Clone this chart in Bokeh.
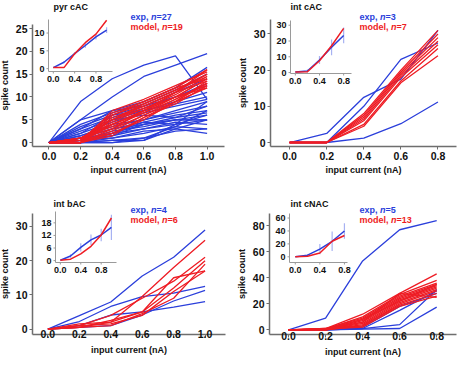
from bokeh.plotting import figure
from bokeh.layouts import column, row
from bokeh.models import Label, FixedTicker, NumeralTickFormatter, Range1d
from bokeh.core.properties import value
from bokeh.embed import file_html
from bokeh.resources import INLINE

BLUE = "#2b3fdb"
RED = "#ee1c24"
ERR = "#a7b2f2"
INK = "#111111"
FONT = "Liberation Sans"

# ---------------- data ----------------
pyr_x = [0.0, 0.2, 0.4, 0.6, 0.8, 1.0]
pyr_exp = [
    [0, 9, 14, 17, 19, 9.5], [0, 5, 10, 14.5, 17, 19.5], [0, 5, 7, 9, 12, 16.5],
    [0, 4, 6.5, 8.5, 11.5, 15], [0, 3.5, 6, 8, 11, 14], [0, 3, 7, 8, 10, 13],
    [0, 3, 5.5, 7.5, 10, 12.5], [0, 2.5, 5, 7, 9, 11], [0, 2, 6, 7, 8.5, 10],
    [0, 2, 4.5, 6.5, 8, 9.5], [0, 1.5, 4, 5, 7, 9], [0, 1.5, 3.5, 5, 6.5, 8],
    [0, 1, 3, 4.5, 6, 7], [0, 1, 5, 6, 5.5, 6.5], [0, 1, 3, 4, 5, 6],
    [0, 0.5, 2.5, 3.5, 5, 5], [0, 0.5, 2, 4.5, 4, 5], [0, 0.5, 1.5, 3, 4.5, 4],
    [0, 0.5, 1, 2, 3.5, 3], [0, 0, 1, 2.5, 3, 2], [0, 0, 0.5, 0.5, 3, 5],
    [0, 0, 0.5, 1, 2.5, 3], [0, 0, 0, 0.5, 4, 6], [0, 0, 0, 1, 3.5, 7],
    [0, 1, 2, 3, 4, 9], [0, 0, 2, 4, 5, 5], [0, 0.5, 1.5, 4, 5.5, 8],
]
pyr_model = [
    [0, 1, 4, 7, 10, 14], [0, 0.5, 5, 8, 11, 15], [0, 0, 6, 9, 12, 16],
    [0, 0, 7, 9.5, 12.5, 15.5], [0, 1, 3, 6, 9, 13], [0, 0.5, 2, 5, 9, 12],
    [0, 0, 4.5, 7.5, 10.5, 14.5], [0, 0, 5.5, 8, 11, 13.5], [0, 1, 3.5, 6.5, 10, 12.5],
    [0, 0, 2.5, 6, 9.5, 13], [0, 0.5, 6, 8.5, 11.5, 15], [0, 0, 4, 7, 10, 12],
    [0, 0, 1.5, 5.5, 8.5, 12.5], [0, 1, 5, 7.5, 10, 14], [0, 0, 3, 7, 11, 16],
    [0, 0.5, 6.5, 9, 12, 14], [0, 0, 2, 5.5, 9, 13.5], [0, 0, 5, 8.5, 11.5, 14.5],
    [0, 1, 4, 6.5, 9.5, 13],
]
pyr_inset_exp = [0.3, 1.8, 4.2, 6.5, 8.9, 10.8]
pyr_inset_err = [0.0, 0.3, 0.4, 0.6, 0.7, 0.8]
pyr_inset_model = [0.3, 0.3, 4.2, 7.3, 9.7, 13.6]

cac_x = [0.0, 0.2, 0.4, 0.6, 0.8]
cac_exp = [[0, 2.5, 12.5, 17.5, 31], [0, 0, 10, 23, 27.5], [0, 0, 1.2, 5.2, 11.2]]
cac_model = [
    [0, 0, 8, 20, 31], [0, 0, 7.5, 19.5, 30], [0, 0, 7, 19, 29], [0, 0, 6.5, 18.5, 28],
    [0, 0, 6, 18, 27], [0, 0, 5, 17, 26], [0, 0, 4.5, 16.5, 24],
]
cac_inset_exp = [0.3, 1.0, 8.0, 16.0, 23.5]
cac_inset_err = [0.0, 1.0, 2.5, 5.0, 5.0]
cac_inset_model = [0.3, 0.5, 7.5, 17.0, 28.0]

bac_x = [0.0, 0.2, 0.4, 0.6, 0.8, 1.0]
bac_exp = [[0, 3.9, 7.9, 15.5, 21, 29], [0, 2.2, 6.6, 9.5, 10.5, 12.5],
           [0, 1, 4.1, 5, 6.4, 8], [0, 0.5, 1, 4.1, 8.2, 11.3]]
bac_model = [
    [0, 0.5, 2, 9.5, 18, 26], [0, 1, 4, 9, 14, 21], [0, 1.5, 2, 5, 12, 20],
    [0, 0.5, 1, 4.5, 9, 19], [0, 0.5, 2.5, 5, 15, 17], [0, 1, 1.5, 4, 11, 17],
]
bac_inset_exp = [0.2, 2.2, 6.3, 9.9, 12.2, 15.8]
bac_inset_err = [0.0, 0.8, 2.0, 2.5, 3.0, 6.0]
bac_inset_model = [0.2, 0.7, 3.2, 6.8, 12.2, 20.3]

cnac_x = [0.0, 0.2, 0.4, 0.6, 0.8]
cnac_exp = [[0, 9, 53, 77, 84], [0, 0, 1, 15, 30], [0, 0, 1, 4, 31],
            [0, 0, 0.5, 1, 17.5], [0, 0, 2, 18, 28]]
cnac_model = [
    [0, 1, 12, 28, 43], [0, 0.5, 10, 27, 38], [0, 1, 9, 26, 36], [0, 0.5, 8, 25, 35],
    [0, 0, 7, 24, 34], [0, 0.5, 6, 23, 33], [0, 0, 5, 22, 32], [0, 0, 4, 21, 31],
    [0, 1, 3, 20, 30], [0, 0, 3, 19, 28], [0, 0.5, 2, 18, 26], [0, 0, 6, 28, 25],
    [0, 0, 8, 22, 35],
]
cnac_inset_exp = [0.0, 2.5, 12.0, 24.0, 40.0]
cnac_inset_err = [0.0, 1.5, 8.0, 15.0, 12.0]
cnac_inset_model = [0.0, 1.0, 6.0, 24.0, 33.0]

x_ticks_10 = [0.0, 0.2, 0.4, 0.6, 0.8, 1.0]
x_ticks_08 = [0.0, 0.2, 0.4, 0.6, 0.8]
inset_x_ticks = [0.0, 0.4, 0.8]
inset_x_labels = ["0.0", "0.4", "0.8"]

PW, PH = 229, 182


def panel(xs, exp, model, xr, yr, xticks, yticks, frame, legend_y, n_exp, n_mod,
          ins_exp, ins_err, ins_mod, ins_xr, ins_yr, ins_yticks, ins_frame, title,
          title_pos, xstand, xlabstand):
    L, R, T, B = frame
    # the plot area is the whole panel; axes sit at fixed locations inside it
    kx = (xr[1] - xr[0]) / (R - L)
    ky = (yr[1] - yr[0]) / (B - T)
    X0, X1 = xr[0] - L * kx, xr[1] + (PW - R) * kx
    Y0, Y1 = yr[0] - (PH - B) * ky, yr[1] + T * ky
    p = figure(width=PW, height=PH, x_range=Range1d(X0, X1), y_range=Range1d(Y0, Y1),
               output_backend="svg", toolbar_location=None,
               min_border_left=0, min_border_right=0, min_border_top=0,
               min_border_bottom=0)
    p.outline_line_color = None
    p.grid.visible = False
    p.xaxis.ticker = FixedTicker(ticks=xticks)
    p.yaxis.ticker = FixedTicker(ticks=yticks)
    p.xaxis.formatter = NumeralTickFormatter(format="0.0")
    p.xaxis.fixed_location = yr[0]
    p.yaxis.fixed_location = xr[0]
    p.xaxis.bounds = (xr[0], xr[1])
    p.yaxis.bounds = (yr[0], yr[1])
    for ax in (p.xaxis[0], p.yaxis[0]):
        ax.axis_line_color = "#6e6e6e"
        ax.axis_line_width = 1.5
        ax.major_tick_line_color = "#6e6e6e"
        ax.major_tick_in = 0
        ax.major_tick_out = 3
        ax.minor_tick_line_color = None
        ax.major_label_text_font = FONT
        ax.major_label_text_font_style = "bold"
        ax.major_label_text_font_size = "10.5px"
        ax.major_label_text_color = INK
        ax.axis_label_text_font = FONT
        ax.axis_label_text_font_style = "bold"
        ax.axis_label_text_font_size = "9px"
        ax.axis_label_text_color = INK
    p.yaxis.major_label_standoff = 2
    p.yaxis.axis_label_standoff = 3
    p.xaxis.major_label_standoff = xstand
    p.xaxis.axis_label_standoff = xlabstand
    p.xaxis.axis_label = "input current (nA)"
    p.yaxis.axis_label = "spike count"

    for ys in exp:
        p.line(xs, ys, line_color=BLUE, line_width=1.3)
    for ys in model:
        p.line(xs, ys, line_color=RED, line_width=1.3)

    # ---- inset: its own ranges, mapped onto the sub-rectangle ins_frame ----
    iL, iR, iT, iB = ins_frame
    ix0, ix1 = ins_xr
    iy0, iy1 = ins_yr
    sx = (ix1 - ix0) / (iR - iL)
    sy = (iy1 - iy0) / (iB - iT)
    p.extra_x_ranges = {"ix": Range1d(ix0 - iL * sx, ix1 + (PW - iR) * sx)}
    p.extra_y_ranges = {"iy": Range1d(iy0 - (PH - iB) * sy, iy1 + iT * sy)}
    kw = dict(x_range_name="ix", y_range_name="iy")
    AX = "#9a9a9a"
    p.segment(x0=[ix0, ix0], y0=[iy0, iy0], x1=[ix0, ix1], y1=[iy1, iy0],
              line_color=AX, line_width=1, **kw)
    p.segment(x0=[ix0 - 2 * sx] * len(ins_yticks), y0=ins_yticks,
              x1=[ix0] * len(ins_yticks), y1=ins_yticks, line_color=AX, **kw)
    p.segment(x0=inset_x_ticks, y0=[iy0] * 3, x1=inset_x_ticks,
              y1=[iy0 - 2 * sy] * 3, line_color=AX, **kw)
    p.text(x=[ix0 - 4 * sx] * len(ins_yticks), y=ins_yticks,
           text=[str(v) for v in ins_yticks], text_align="right",
           text_baseline="middle", text_font=value(FONT), text_font_style="bold",
           text_font_size="9px", text_color=INK, **kw)
    p.text(x=inset_x_ticks, y=[iy0 - 4 * sy] * 3, text=inset_x_labels,
           text_align="center", text_baseline="top", text_font=value(FONT),
           text_font_style="bold", text_font_size="9px", text_color=INK, **kw)
    lo = [m - e for m, e in zip(ins_exp, ins_err)]
    hi = [m + e for m, e in zip(ins_exp, ins_err)]
    p.segment(x0=xs, y0=lo, x1=xs, y1=hi, line_color=ERR, line_width=1.2, **kw)
    p.line(xs, ins_exp, line_color=BLUE, line_width=1.5, **kw)
    p.line(xs, ins_mod, line_color=RED, line_width=1.5, **kw)

    # ---- texts placed by panel pixel position ----
    def d(px, py):
        return (X0 + px * (X1 - X0) / PW, Y1 - py * (Y1 - Y0) / PH)

    def lab(px, py, txt, col=INK, st="bold", off=0):
        x, y = d(px, py)
        p.add_layout(Label(x=x, y=y, x_offset=off, text=txt, text_color=col,
                           text_font=FONT, text_font_style=st, text_font_size="9px",
                           text_baseline="middle", text_align="left"))

    lab(title_pos[0], title_pos[1], title)
    lab(130, legend_y, "exp,", BLUE)
    lab(130, legend_y, "n", BLUE, st="bold italic", off=20.5)
    lab(130, legend_y, "=" + n_exp, BLUE, off=26)
    lab(130, legend_y + 10, "model,", RED)
    lab(130, legend_y + 10, "n", RED, st="bold italic", off=31.5)
    lab(130, legend_y + 10, "=" + n_mod, RED, off=37)
    return p


p1 = panel(pyr_x, pyr_exp, pyr_model, (-0.104, 1.11), (-0.86, 25.9), x_ticks_10,
           [0, 5, 10, 15, 20, 25], (32, 224, 24, 146), 16, "27", "19",
           pyr_inset_exp, pyr_inset_err, pyr_inset_model, (-0.09, 1.11), (-0.8, 13.8),
           [0, 5, 10], (48, 112, 19, 71), "pyr cAC", (53, 6), 2, 2)
p2 = panel(cac_x, cac_exp, cac_model, (-0.103, 0.9), (-1.1, 34), x_ticks_08,
           [0, 10, 20, 30], (41, 227, 19, 146), 16, "3", "7",
           cac_inset_exp, cac_inset_err, cac_inset_model, (-0.08, 0.93), (-0.6, 33),
           [0, 10, 20, 30], (61, 122, 20, 73), "int cAC", (61, 6), 2, 2)
p3 = panel(bac_x, bac_exp, bac_model, (-0.098, 1.13), (-1.6, 33.8), x_ticks_10,
           [0, 10, 20, 30], (32, 225, 31, 152), 27, "4", "6",
           bac_inset_exp, bac_inset_err, bac_inset_model, (-0.095, 1.1), (-0.9, 23.4),
           [0, 6, 12, 18], (55, 116, 29, 80), "int bAC", (53, 21), -8, 4)
p4 = panel(cnac_x, cnac_exp, cnac_model, (-0.103, 0.907), (-3.6, 89.5), x_ticks_08,
           [0, 20, 40, 60, 80], (40, 227, 31, 152), 27, "5", "13",
           cnac_inset_exp, cnac_inset_err, cnac_inset_model, (-0.094, 0.85), (-8.8, 67),
           [0, 20, 40, 60], (60, 118, 31, 80), "int cNAC", (61, 21), -6, 4)

layout = column(row(p1, p2), row(p3, p4))
open("out.html", "w").write(file_html(layout, INLINE))
